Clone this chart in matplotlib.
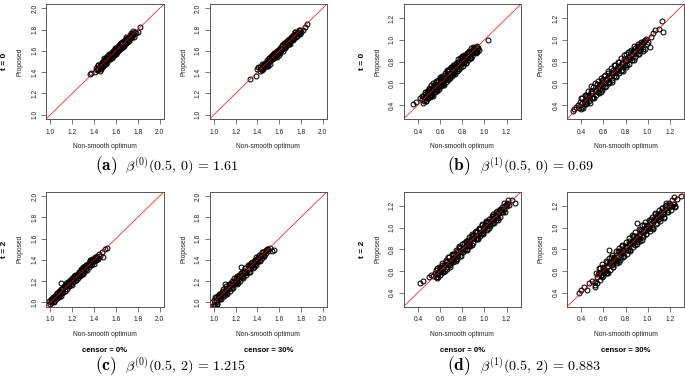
import matplotlib
matplotlib.use("Agg")
import matplotlib.pyplot as plt

plt.rcParams['mathtext.fontset'] = 'cm'
SANS = ['Liberation Sans', 'DejaVu Sans']

# ---------------- data ----------------
# (a) beta0, t=0, censor 0%
a0_x = [1.36,1.37,1.41,1.42,1.43,1.44,1.44,1.45,1.46,1.46,1.47,1.47,1.48,1.48,1.49,1.49,1.50,1.50,1.51,1.51,
        1.52,1.52,1.53,1.53,1.54,1.54,1.55,1.55,1.56,1.56,1.57,1.57,1.58,1.58,1.59,1.59,1.60,1.60,1.61,1.61,
        1.62,1.62,1.63,1.63,1.64,1.64,1.65,1.65,1.66,1.66,1.67,1.67,1.68,1.68,1.69,1.69,1.70,1.70,1.71,1.72,
        1.73,1.74,1.75,1.76,1.77,1.78,1.80,1.82,
        1.425,1.435,1.445,1.455,1.465,1.475,1.485,1.495,1.505,1.515,1.525,1.535,1.545,1.555,1.565,1.575,
        1.585,1.595,1.605,1.615,1.625,1.635,1.645,1.655,1.665,1.675,1.685,1.695,1.705,1.715,1.725,1.735,
        1.745,1.755,1.765,1.44,1.46,1.48,1.50,1.52,1.54,1.56,1.58,1.60,1.62,1.64,1.66,1.68,1.70,1.72,1.74,1.76]
a0_y = [1.38,1.39,1.40,1.44,1.42,1.47,1.43,1.41,1.48,1.45,1.49,1.45,1.50,1.46,1.51,1.48,1.52,1.48,1.53,1.50,
        1.55,1.50,1.54,1.51,1.57,1.52,1.56,1.53,1.59,1.54,1.58,1.55,1.61,1.56,1.60,1.57,1.63,1.58,1.62,1.59,
        1.65,1.60,1.64,1.61,1.66,1.62,1.67,1.63,1.68,1.64,1.69,1.65,1.70,1.66,1.71,1.67,1.72,1.68,1.72,1.71,
        1.75,1.72,1.76,1.75,1.78,1.77,1.78,1.82,
        1.425,1.463,1.427,1.467,1.433,1.495,1.479,1.529,1.481,1.521,1.525,1.563,1.527,1.567,1.533,1.595,
        1.579,1.629,1.581,1.621,1.625,1.663,1.627,1.667,1.633,1.695,1.679,1.729,1.681,1.721,1.725,1.763,
        1.727,1.767,1.733,1.428,1.476,1.454,1.504,1.544,1.526,1.548,1.596,1.574,1.624,1.664,1.646,1.668,1.716,1.694,1.744,1.784]
# (a) beta0, t=0, censor 30%
a1_x = [1.33,1.39,1.40,1.41,1.42,1.43,1.44,1.45,1.45,1.46,1.47,1.47,1.48,1.49,1.49,1.50,1.51,1.51,1.52,1.53,
        1.53,1.54,1.55,1.55,1.56,1.57,1.57,1.58,1.59,1.59,1.60,1.61,1.61,1.62,1.63,1.63,1.64,1.65,1.65,1.66,
        1.67,1.67,1.68,1.69,1.69,1.70,1.71,1.71,1.72,1.73,1.74,1.75,1.76,1.77,1.78,1.79,1.80,1.82,1.84,1.86,
        1.52,1.58,1.64,1.70,1.46,1.55,
        1.425,1.435,1.445,1.455,1.465,1.475,1.485,1.495,1.505,1.515,1.525,1.535,1.545,1.555,1.565,1.575,
        1.585,1.595,1.605,1.615,1.625,1.635,1.645,1.655,1.665,1.675,1.685,1.695,1.705,1.715,1.725,1.735,
        1.745,1.755,1.765,1.775,1.785,1.795,
        1.45,1.47,1.49,1.51,1.53,1.55,1.57,1.59,1.61,1.63,1.65,1.67,1.69,1.71,1.73,1.75,1.77]
a1_y = [1.34,1.36,1.43,1.45,1.41,1.44,1.42,1.47,1.44,1.45,1.49,1.46,1.47,1.51,1.48,1.49,1.53,1.50,1.51,1.55,
        1.52,1.53,1.57,1.54,1.55,1.59,1.56,1.57,1.61,1.58,1.59,1.63,1.60,1.61,1.65,1.62,1.63,1.67,1.64,1.65,
        1.69,1.66,1.67,1.71,1.68,1.69,1.73,1.70,1.71,1.74,1.72,1.76,1.74,1.78,1.76,1.80,1.78,1.80,1.82,1.85,
        1.48,1.54,1.60,1.66,1.48,1.58,
        1.447,1.425,1.475,1.429,1.469,1.457,1.499,1.461,1.513,1.513,1.547,1.525,1.575,1.529,1.569,1.557,
        1.599,1.561,1.613,1.613,1.647,1.625,1.675,1.629,1.669,1.657,1.699,1.661,1.713,1.713,1.747,1.725,
        1.775,1.729,1.769,1.757,1.799,1.761,
        1.435,1.480,1.462,1.536,1.525,1.568,1.555,1.600,1.582,1.656,1.645,1.688,1.675,1.720,1.702,1.776,1.765]
# (b) beta1, t=0, censor 0%
b0_x = [0.36,0.38,0.42,
        0.44,0.44,0.45,0.46,0.47,0.47,0.48,0.49,0.49,0.50,0.51,0.51,0.52,0.53,0.53,0.54,0.55,0.55,
        0.56,0.57,0.57,0.58,0.59,0.59,0.60,0.61,0.61,0.62,0.63,0.63,0.64,0.65,0.65,0.66,0.67,0.67,
        0.68,0.69,0.69,0.70,0.71,0.71,0.72,0.73,0.73,0.74,0.75,0.75,0.76,0.77,0.77,0.78,0.79,0.79,
        0.80,0.81,0.81,0.82,0.83,0.83,0.84,0.85,0.85,0.86,0.87,0.87,0.88,0.89,0.89,0.90,0.91,0.92,
        0.93,0.94,0.95,1.03,
        0.445,0.455,0.465,0.475,0.485,0.495,0.505,0.515,0.525,0.535,0.545,0.555,0.565,0.575,0.585,
        0.595,0.605,0.615,0.625,0.635,0.645,0.655,0.665,0.675,0.685,0.695,0.705,0.715,0.725,0.735,
        0.745,0.755,0.765,0.775,0.785,0.795,0.805,0.815,0.825,0.835,0.845,0.855,0.865,0.875,0.885,
        0.895,0.905,0.915,0.925,0.935,
        0.47,0.49,0.51,0.53,0.55,0.57,0.59,0.61,0.63,0.65,0.67,0.69,0.71,0.73,0.75,0.77,0.79,0.81,
        0.83,0.85,0.87,0.89,0.91,0.93,
        0.46,0.48,0.50,0.52,0.54,0.56,0.58,0.60,0.62,0.64,0.66,0.68,0.70,0.72,0.74,0.76,0.78,0.80,
        0.82,0.84,0.86,0.88,0.90,0.92]
b0_y = [0.41,0.43,0.46,
        0.48,0.45,0.42,0.50,0.47,0.44,0.53,0.49,0.46,0.56,0.51,0.48,0.58,0.54,0.49,0.60,0.55,0.52,
        0.61,0.58,0.53,0.63,0.59,0.55,0.66,0.61,0.57,0.67,0.64,0.59,0.69,0.65,0.61,0.71,0.67,0.63,
        0.73,0.69,0.65,0.75,0.71,0.67,0.77,0.73,0.69,0.79,0.75,0.71,0.80,0.77,0.73,0.83,0.79,0.75,
        0.85,0.81,0.76,0.86,0.83,0.79,0.88,0.85,0.81,0.90,0.87,0.83,0.92,0.89,0.85,0.93,0.90,0.88,
        0.94,0.92,0.91,1.00,
        0.480,0.435,0.520,0.435,0.495,0.490,0.550,0.485,0.545,0.485,0.580,0.535,0.620,0.535,0.595,
        0.590,0.650,0.585,0.645,0.585,0.680,0.635,0.720,0.635,0.695,0.690,0.750,0.685,0.745,0.685,
        0.780,0.735,0.820,0.735,0.795,0.790,0.850,0.785,0.845,0.785,0.880,0.835,0.885,0.835,0.895,
        0.890,0.925,0.885,0.935,0.885,
        0.460,0.515,0.475,0.535,0.590,0.545,0.580,0.635,0.595,0.655,0.710,0.665,0.700,0.755,0.715,
        0.775,0.830,0.785,0.820,0.875,0.835,0.895,0.920,0.905,
        0.480,0.468,0.540,0.492,0.548,0.580,0.568,0.640,0.592,0.648,0.680,0.668,0.740,0.692,0.748,
        0.780,0.768,0.840,0.792,0.848,0.880,0.868,0.910,0.892]
# (b) beta1, t=0, censor 30%
b1_x = [0.32,0.33,0.35,0.37,0.38,
        0.40,0.41,0.41,0.43,0.44,0.44,0.46,0.47,0.47,0.49,0.50,0.50,0.52,0.53,0.53,
        0.55,0.56,0.56,0.58,0.59,0.59,0.61,0.62,0.62,0.64,0.65,0.65,0.67,0.68,0.68,
        0.70,0.71,0.71,0.73,0.74,0.74,0.76,0.77,0.77,0.79,0.80,0.80,0.82,0.83,0.83,
        0.85,0.86,0.86,0.88,0.89,0.89,0.91,0.92,0.92,0.94,0.95,0.96,0.98,1.00,1.02,
        1.03,1.05,1.07,1.10,1.13,1.14,
        0.385,0.395,0.405,0.415,0.425,0.435,0.445,0.455,0.465,0.475,0.485,0.495,0.505,0.515,0.525,
        0.535,0.545,0.555,0.565,0.575,0.585,0.595,0.605,0.615,0.625,0.635,0.645,0.655,0.665,0.675,
        0.685,0.695,0.705,0.715,0.725,0.735,0.745,0.755,0.765,0.775,0.785,0.795,0.805,0.815,0.825,
        0.835,0.845,0.855,0.865,0.875,0.885,0.895,0.905,0.915,0.925,0.935,0.945,0.955,0.965,0.975,
        0.985,0.995,
        0.41,0.43,0.45,0.47,0.49,0.51,0.53,0.55,0.57,0.59,0.61,0.63,0.65,0.67,0.69,0.71,0.73,0.75,
        0.77,0.79,0.81,0.83,0.85,0.87,0.89,0.91,0.93,0.95,0.97]
b1_y = [0.34,0.36,0.38,0.40,0.37,
        0.46,0.42,0.38,0.49,0.45,0.41,0.53,0.48,0.44,0.57,0.51,0.46,0.60,0.54,0.49,
        0.62,0.57,0.51,0.65,0.60,0.54,0.68,0.63,0.57,0.71,0.66,0.60,0.74,0.69,0.63,
        0.77,0.72,0.66,0.80,0.75,0.69,0.83,0.78,0.72,0.86,0.81,0.75,0.89,0.84,0.78,
        0.91,0.87,0.81,0.94,0.90,0.84,0.96,0.93,0.87,0.98,0.96,0.90,1.00,0.98,0.93,
        1.03,1.06,1.09,1.10,1.17,1.07,
        0.425,0.365,0.465,0.375,0.440,0.425,0.495,0.415,0.490,0.415,0.525,0.465,0.565,0.465,0.540,
        0.525,0.595,0.515,0.590,0.515,0.625,0.565,0.665,0.565,0.640,0.625,0.695,0.615,0.690,0.615,
        0.725,0.665,0.765,0.665,0.740,0.725,0.795,0.715,0.790,0.715,0.825,0.765,0.865,0.765,0.840,
        0.825,0.895,0.815,0.890,0.815,0.925,0.865,0.945,0.865,0.940,0.925,0.975,0.915,0.990,0.915,
        1.005,0.965,
        0.420,0.410,0.480,0.465,0.510,0.475,0.530,0.560,0.550,0.620,0.605,0.650,0.615,0.670,0.700,
        0.690,0.760,0.745,0.790,0.755,0.810,0.840,0.830,0.900,0.885,0.930,0.895,0.950,0.980]
# (c) beta0, t=2, censor 0%
c0_x = [0.98,0.99,1.00,
        1.01,1.01,1.02,1.03,1.03,1.04,1.05,1.05,1.06,1.07,1.07,1.08,1.09,1.09,1.10,1.11,1.11,1.12,
        1.13,1.13,1.14,1.15,1.15,1.16,1.17,1.17,1.18,1.19,1.19,1.20,1.21,1.21,1.22,1.23,1.23,1.24,
        1.25,1.25,1.26,1.27,1.27,1.28,1.29,1.29,1.30,1.31,1.31,1.32,1.33,1.33,1.34,1.35,1.35,1.36,
        1.37,1.38,1.39,1.40,1.41,1.42,1.43,1.45,1.47,1.48,1.50,1.52,1.10,1.38,
        1.005,1.015,1.025,1.035,1.045,1.055,1.065,1.075,1.085,1.095,1.105,1.115,1.125,1.135,1.145,
        1.155,1.165,1.175,1.185,1.195,1.205,1.215,1.225,1.235,1.245,1.255,1.265,1.275,1.285,1.295,
        1.305,1.315,1.325,1.335,1.345,1.355,1.365,1.375,1.385,1.395,1.405,1.415,1.425,1.435,1.445]
c0_y = [0.98,1.01,0.99,
        1.03,1.00,1.04,1.05,1.01,1.06,1.07,1.03,1.09,1.09,1.05,1.11,1.11,1.07,1.13,1.13,1.09,1.14,
        1.15,1.11,1.18,1.17,1.13,1.19,1.19,1.15,1.21,1.21,1.17,1.23,1.23,1.19,1.25,1.25,1.21,1.26,
        1.27,1.23,1.29,1.29,1.25,1.31,1.31,1.27,1.33,1.33,1.29,1.34,1.35,1.31,1.36,1.37,1.33,1.40,
        1.38,1.36,1.40,1.39,1.42,1.40,1.42,1.44,1.47,1.43,1.50,1.51,1.18,1.41,
        1.025,1.000,1.055,1.007,1.053,1.051,1.089,1.055,1.097,1.063,1.125,1.100,1.155,1.107,1.153,
        1.151,1.189,1.155,1.197,1.163,1.225,1.200,1.255,1.207,1.253,1.251,1.289,1.255,1.297,1.263,
        1.325,1.300,1.355,1.307,1.353,1.351,1.389,1.355,1.397,1.363,1.425,1.400,1.440,1.407,1.453]
# (c) beta0, t=2, censor 30%
c1_x = [0.98,0.99,1.00,1.01,1.02,1.02,1.03,1.04,1.05,1.05,1.06,1.07,1.08,1.08,1.09,1.10,1.11,1.11,1.12,1.13,
        1.14,1.14,1.15,1.16,1.17,1.17,1.18,1.19,1.20,1.20,1.21,1.22,1.23,1.23,1.24,1.25,1.26,1.26,1.27,1.28,
        1.29,1.29,1.30,1.31,1.32,1.32,1.33,1.34,1.35,1.35,1.36,1.37,1.38,1.38,1.39,1.40,1.41,1.42,1.43,1.44,
        1.45,1.46,1.47,1.48,1.50,1.52,1.53,1.55,1.10,1.25,
        1.005,1.015,1.025,1.035,1.045,1.055,1.065,1.075,1.085,1.095,1.105,1.115,1.125,1.135,1.145,
        1.155,1.165,1.175,1.185,1.195,1.205,1.215,1.225,1.235,1.245,1.255,1.265,1.275,1.285,1.295,
        1.305,1.315,1.325,1.335,1.345,1.355,1.365,1.375,1.385,1.395,1.405,1.415,1.425,1.435,1.445,
        1.455,1.465,1.475,1.485,1.495]
c1_y = [1.00,0.97,1.02,0.98,1.05,1.00,0.99,1.06,1.08,1.04,1.03,1.08,1.11,1.07,1.06,1.11,1.14,1.10,1.08,1.14,
        1.17,1.13,1.11,1.17,1.20,1.16,1.14,1.20,1.23,1.19,1.17,1.23,1.26,1.22,1.20,1.26,1.29,1.25,1.23,1.29,
        1.32,1.28,1.26,1.32,1.35,1.31,1.29,1.35,1.38,1.34,1.32,1.38,1.40,1.36,1.35,1.41,1.43,1.40,1.44,1.42,
        1.47,1.44,1.48,1.46,1.50,1.51,1.48,1.49,1.17,1.33,
        0.985,1.050,0.987,1.047,1.073,1.047,1.035,1.095,1.125,1.081,1.085,1.150,1.087,1.147,1.173,
        1.147,1.135,1.195,1.225,1.181,1.185,1.250,1.187,1.247,1.273,1.247,1.235,1.295,1.325,1.281,
        1.285,1.350,1.287,1.347,1.373,1.347,1.335,1.395,1.425,1.381,1.385,1.450,1.387,1.447,1.473,
        1.447,1.435,1.495,1.505,1.481]
# (d) beta1, t=2, censor 0%
d0_x = [0.42,0.45,0.50,0.52,0.54,
        0.56,0.57,0.57,0.59,0.60,0.60,0.62,0.63,0.63,0.65,0.66,0.66,0.68,0.69,0.69,
        0.71,0.72,0.72,0.74,0.75,0.75,0.77,0.78,0.78,0.80,0.81,0.81,0.83,0.84,0.84,
        0.86,0.87,0.87,0.89,0.90,0.90,0.92,0.93,0.93,0.95,0.96,0.96,0.98,0.99,0.99,
        1.01,1.02,1.02,1.04,1.05,1.05,1.07,1.08,1.08,1.10,1.11,1.12,
        1.14,1.16,1.18,1.20,1.22,1.25,1.28,
        0.555,0.565,0.575,0.585,0.595,0.605,0.615,0.625,0.635,0.645,0.655,0.665,0.675,0.685,0.695,
        0.705,0.715,0.725,0.735,0.745,0.755,0.765,0.775,0.785,0.795,0.805,0.815,0.825,0.835,0.845,
        0.855,0.865,0.875,0.885,0.895,0.905,0.915,0.925,0.935,0.945,0.955,0.965,0.975,0.985,0.995,
        1.005,1.015,1.025,1.035,1.045,1.055,1.065,1.075,1.085,1.095,1.105,1.115,1.125,1.135,1.145,
        1.155,1.165,1.175,1.185,1.195,1.205,1.215,
        0.58,0.60,0.62,0.64,0.66,0.68,0.70,0.72,0.74,0.76,0.78,0.80,0.82,0.84,0.86,0.88,
        0.90,0.92,0.94,0.96,0.98,1.00,1.02,1.04,1.06,1.08,1.10,1.12,1.14,1.16,1.18,1.20]
d0_y = [0.49,0.51,0.54,0.56,0.55,
        0.61,0.57,0.53,0.64,0.60,0.56,0.67,0.63,0.59,0.70,0.66,0.62,0.73,0.69,0.65,
        0.76,0.72,0.68,0.79,0.75,0.71,0.82,0.78,0.74,0.85,0.81,0.77,0.88,0.84,0.80,
        0.91,0.87,0.83,0.94,0.90,0.86,0.97,0.93,0.89,1.00,0.96,0.92,1.03,0.99,0.95,
        1.06,1.02,0.98,1.08,1.05,1.01,1.11,1.08,1.04,1.14,1.11,1.07,
        1.16,1.16,1.20,1.22,1.21,1.25,1.23,
        0.585,0.540,0.625,0.540,0.605,0.600,0.655,0.590,0.655,0.595,0.685,0.640,0.725,0.640,0.705,
        0.700,0.755,0.690,0.755,0.695,0.785,0.740,0.825,0.740,0.805,0.800,0.855,0.790,0.855,0.795,
        0.885,0.840,0.925,0.840,0.905,0.900,0.955,0.890,0.955,0.895,0.985,0.940,1.025,0.940,1.005,
        1.000,1.055,0.990,1.055,0.995,1.085,1.040,1.125,1.040,1.105,1.100,1.155,1.090,1.155,1.095,
        1.185,1.140,1.225,1.140,1.205,1.200,1.255,
        0.570,0.625,0.590,0.655,0.695,0.660,0.690,0.745,0.710,0.775,0.815,0.780,0.810,0.865,0.830,0.895,
        0.935,0.900,0.930,0.985,0.950,1.015,1.055,1.020,1.050,1.105,1.070,1.135,1.175,1.140,1.170,1.225]
# (d) beta1, t=2, censor 30%
d1_x = [0.38,0.40,0.42,0.45,0.47,0.50,0.52,0.52,0.54,
        0.56,0.57,0.57,0.59,0.60,0.60,0.62,0.63,0.63,0.65,0.66,0.66,0.68,0.69,0.69,
        0.71,0.72,0.72,0.74,0.75,0.75,0.77,0.78,0.78,0.80,0.81,0.81,0.83,0.84,0.84,
        0.86,0.87,0.87,0.89,0.90,0.90,0.92,0.93,0.93,0.95,0.96,0.96,0.98,0.99,0.99,
        1.01,1.02,1.02,1.04,1.05,1.05,1.07,1.08,1.08,1.10,1.11,1.11,1.13,1.14,1.15,
        1.17,1.19,1.21,1.23,1.25,1.27,1.30,0.65,0.90,
        0.525,0.535,0.545,0.555,0.565,0.575,0.585,0.595,0.605,0.615,0.625,0.635,0.645,0.655,0.665,
        0.675,0.685,0.695,0.705,0.715,0.725,0.735,0.745,0.755,0.765,0.775,0.785,0.795,0.805,0.815,
        0.825,0.835,0.845,0.855,0.865,0.875,0.885,0.895,0.905,0.915,0.925,0.935,0.945,0.955,0.965,
        0.975,0.985,0.995,1.005,1.015,1.025,1.035,1.045,1.055,1.065,1.075,1.085,1.095,1.105,1.115,
        1.125,1.135,1.145,1.155,1.165,1.175,1.185,1.195,1.205,1.215,1.225,1.235,1.245,
        0.56,0.58,0.60,0.62,0.64,0.66,0.68,0.70,0.72,0.74,0.76,0.78,0.80,0.82,0.84,0.86,0.88,0.90,
        0.92,0.94,0.96,0.98,1.00,1.02,1.04,1.06,1.08,1.10,1.12,1.14,1.16,1.18,1.20,1.22,1.24]
d1_y = [0.40,0.42,0.45,0.42,0.49,0.51,0.47,0.45,0.54,
        0.63,0.58,0.52,0.66,0.61,0.55,0.69,0.64,0.58,0.72,0.67,0.61,0.75,0.70,0.64,
        0.78,0.73,0.67,0.81,0.76,0.70,0.84,0.79,0.73,0.87,0.82,0.76,0.90,0.85,0.79,
        0.93,0.88,0.82,0.96,0.91,0.85,0.99,0.94,0.88,1.02,0.97,0.91,1.05,1.00,0.94,
        1.07,1.03,0.97,1.10,1.06,1.00,1.13,1.09,1.03,1.16,1.12,1.06,1.18,1.14,1.10,
        1.21,1.19,1.16,1.22,1.20,1.26,1.29,0.79,1.04,
        0.495,0.580,0.485,0.570,0.625,0.565,0.540,0.625,0.610,0.595,0.595,0.680,0.585,0.670,0.725,
        0.665,0.640,0.725,0.710,0.695,0.695,0.780,0.685,0.770,0.825,0.765,0.740,0.825,0.810,0.795,
        0.795,0.880,0.785,0.870,0.925,0.865,0.840,0.925,0.910,0.895,0.895,0.980,0.885,0.970,1.025,
        0.965,0.940,1.025,1.010,0.995,0.995,1.080,0.985,1.070,1.125,1.065,1.040,1.125,1.110,1.095,
        1.095,1.180,1.085,1.170,1.225,1.165,1.140,1.225,1.210,1.195,1.195,1.280,1.185,
        0.580,0.565,0.640,0.585,0.645,0.690,0.655,0.720,0.705,0.780,0.725,0.785,0.830,0.795,0.860,
        0.845,0.920,0.865,0.925,0.970,0.935,1.000,0.985,1.060,1.005,1.065,1.110,1.075,1.140,1.125,
        1.200,1.145,1.205,1.250,1.215]

ticks_b0 = [1.0, 1.2, 1.4, 1.6, 1.8, 2.0]
ticks_b1 = [0.4, 0.6, 0.8, 1.0, 1.2]
row_labels = ['t = 0', 't = 2']
censor_labels = ['censor = 0%', 'censor = 30%']
captions = [('(a)', r'$\beta^{(0)}(0.5,\, 0)\, =\, 1.61$'),
            ('(b)', r'$\beta^{(1)}(0.5,\, 0)\, =\, 0.69$'),
            ('(c)', r'$\beta^{(0)}(0.5,\, 2)\, =\, 1.215$'),
            ('(d)', r'$\beta^{(1)}(0.5,\, 2)\, =\, 0.883$')]

# ---------------- layout ----------------
W, H = 685, 379
fig = plt.figure(figsize=(W / 100, H / 100), dpi=100)

def P(x, y):
    return x / W, 1 - y / H

cols = [(46, 164), (209.5, 327), (403.5, 521), (567, 684)]
rows = [(4, 119), (191.7, 306.7)]

panels = [
    (0, 0, a0_x, a0_y, (0.96, 2.04), ticks_b0),
    (0, 1, a1_x, a1_y, (0.96, 2.04), ticks_b0),
    (0, 2, b0_x, b0_y, (0.27, 1.33), ticks_b1),
    (0, 3, b1_x, b1_y, (0.27, 1.33), ticks_b1),
    (1, 0, c0_x, c0_y, (0.96, 2.04), ticks_b0),
    (1, 1, c1_x, c1_y, (0.96, 2.04), ticks_b0),
    (1, 2, d0_x, d0_y, (0.27, 1.33), ticks_b1),
    (1, 3, d1_x, d1_y, (0.27, 1.33), ticks_b1),
]

for r, c, xs, ys, lim, ticks in panels:
    x0, x1 = cols[c]
    y0, y1 = rows[r]
    ax = fig.add_axes([x0 / W, 1 - y1 / H, (x1 - x0) / W, (y1 - y0) / H])
    ax.plot(xs, ys, 'o', ls='none', mfc='none', mec='black', ms=3.5, mew=0.75, zorder=2)
    ax.axline((lim[0], lim[0]), slope=1, color='red', lw=0.5, zorder=3)
    ax.set_xlim(lim)
    ax.set_ylim(lim)
    ax.set_xticks(ticks)
    ax.set_yticks(ticks)
    ax.set_xticklabels([f'{t:.1f}' for t in ticks], fontsize=4.8, family=SANS)
    ax.set_yticklabels([f'{t:.1f}' for t in ticks], fontsize=4.8, family=SANS,
                       rotation=90, va='center')
    ax.tick_params(length=3.5, width=0.5, colors='#444', labelcolor='#222')
    ax.tick_params(axis='x', pad=3.5)
    ax.tick_params(axis='y', pad=2)
    for s in ax.spines.values():
        s.set_linewidth(0.7)
        s.set_color('#555')
    cx = (x0 + x1) / 2
    cy = (y0 + y1) / 2
    fig.text(*P(cx, y1 + 28), 'Non-smooth optimum', fontsize=4.8, family=SANS,
             ha='center', va='center', color='#222')
    fig.text(*P(x0 - 26, cy), 'Proposed', fontsize=4.8, family=SANS, rotation=90,
             ha='center', va='center', color='#222')
    if c in (0, 2):
        fig.text(*P(x0 - 41, cy), row_labels[r], fontsize=6, family=SANS, weight='bold',
                 rotation=90, ha='center', va='center')
    if r == 1:
        fig.text(*P(cx, 350), censor_labels[c % 2], fontsize=5.6, family=SANS,
                 weight='bold', ha='center', va='center')

cap_pos = [(95, 125, 166), (447, 480, 166), (95, 125, 366), (447, 480, 366)]
for (lab, math), (xl, xm, yc) in zip(captions, cap_pos):
    fig.text(*P(xl, yc), r'$\mathbf{' + lab + '}$', fontsize=12.5, ha='left', va='center')
    fig.text(*P(xm, yc), math, fontsize=10.2, ha='left', va='center')

fig.savefig('out.png', dpi=100)
